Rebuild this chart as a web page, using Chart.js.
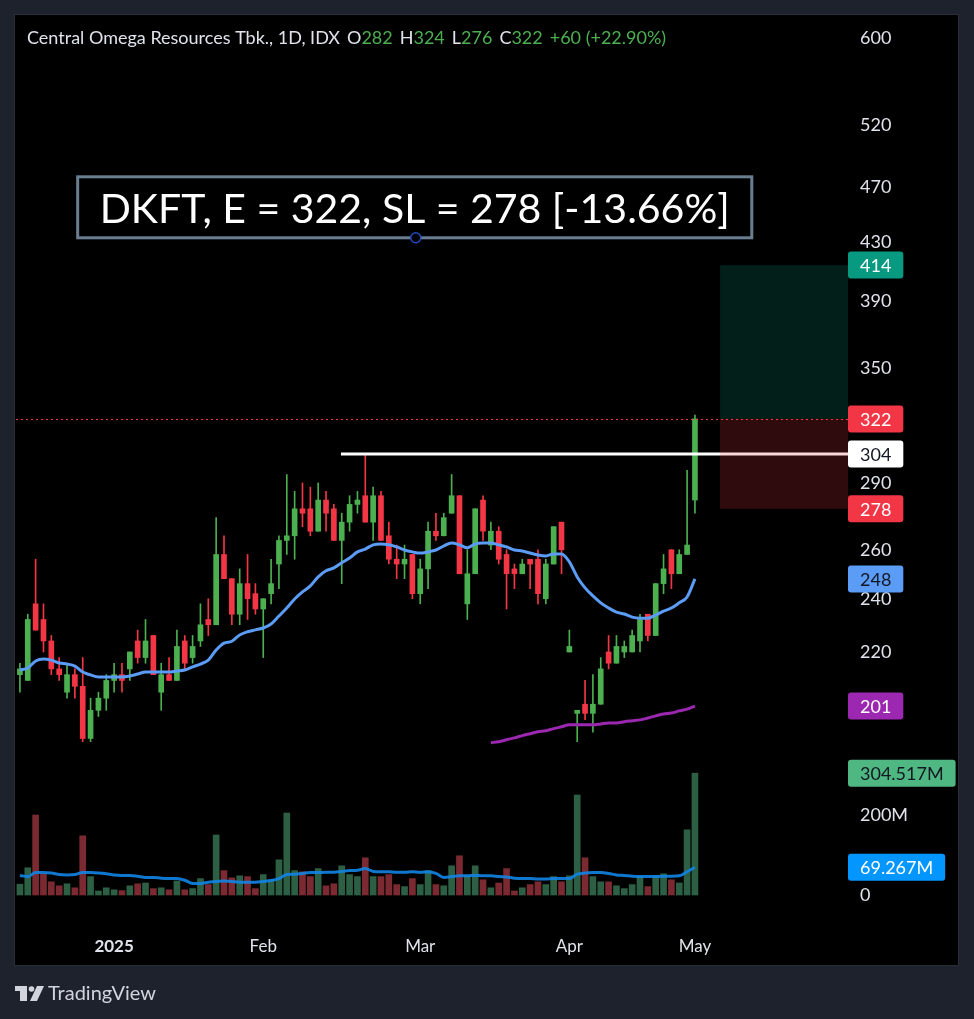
<!DOCTYPE html>
<html>
<head>
<meta charset="utf-8">
<title>DKFT daily</title>
<script src="https://cdn.jsdelivr.net/npm/chart.js@4.4.1/dist/chart.umd.min.js"></script>
<style>
  html, body { margin: 0; padding: 0; background: #1e222d; }
  canvas { display: block; }
</style>
</head>
<body>
<canvas id="chart" width="974" height="1019"></canvas>
<script>
// trading days shown (IDX, Dec 2024 - May 2025)
const dates = [
  "2024-12-10", "2024-12-11", "2024-12-12", "2024-12-13", "2024-12-16", "2024-12-17", "2024-12-18", "2024-12-19", "2024-12-20", "2024-12-23", "2024-12-27", "2024-12-30",
  "2025-01-02", "2025-01-03", "2025-01-06", "2025-01-07", "2025-01-08", "2025-01-09", "2025-01-10", "2025-01-13", "2025-01-14", "2025-01-15", "2025-01-16", "2025-01-17", "2025-01-20", "2025-01-21", "2025-01-22", "2025-01-23", "2025-01-24", "2025-01-30", "2025-01-31",
  "2025-02-03", "2025-02-04", "2025-02-05", "2025-02-06", "2025-02-07", "2025-02-10", "2025-02-11", "2025-02-12", "2025-02-13", "2025-02-14", "2025-02-17", "2025-02-18", "2025-02-19", "2025-02-20", "2025-02-21", "2025-02-24", "2025-02-25", "2025-02-26", "2025-02-27", "2025-02-28",
  "2025-03-03", "2025-03-04", "2025-03-05", "2025-03-06", "2025-03-07", "2025-03-10", "2025-03-11", "2025-03-12", "2025-03-13", "2025-03-14", "2025-03-17", "2025-03-18", "2025-03-19", "2025-03-20", "2025-03-21", "2025-03-24", "2025-03-25", "2025-03-26", "2025-03-27",
  "2025-04-08", "2025-04-09", "2025-04-10", "2025-04-11", "2025-04-14", "2025-04-15", "2025-04-16", "2025-04-17", "2025-04-21", "2025-04-22", "2025-04-23", "2025-04-24", "2025-04-25", "2025-04-28", "2025-04-29", "2025-04-30",
  "2025-05-02"
];

const opens = [212, 210, 238, 232, 224, 214, 206, 212, 208, 191, 200, 204, 210, 212, 214, 224, 218, 226, 206, 212,
  210, 224, 218, 224, 232, 230, 258, 248, 234, 246, 242, 236, 242, 254, 264, 266, 278, 278, 268, 282,
  278, 264, 272, 280, 284, 272, 284, 266, 256, 254, 258, 242, 252, 268, 266, 276, 284, 238, 250, 282,
  262, 268, 258, 252, 250, 256, 256, 240, 254, 272, 220, 199, 202, 199, 202, 220, 216, 220, 220, 224,
  234, 226, 246, 260, 250, 258, 282];
const highs = [216, 234, 256, 238, 226, 218, 216, 214, 218, 204, 206, 212, 216, 216, 220, 228, 232, 226, 216, 218,
  228, 226, 226, 238, 240, 274, 266, 248, 252, 258, 246, 240, 256, 266, 294, 286, 290, 288, 290, 286,
  280, 276, 284, 286, 304, 288, 286, 272, 262, 262, 258, 256, 272, 276, 276, 294, 284, 260, 278, 284,
  272, 270, 260, 254, 256, 256, 260, 256, 270, 272, 228, 200, 210, 212, 218, 226, 226, 224, 228, 234,
  234, 246, 258, 260, 260, 296, 324];
const lows = [206, 210, 228, 220, 212, 210, 204, 204, 190, 190, 198, 200, 206, 206, 210, 216, 216, 212, 200, 210,
  210, 214, 216, 222, 226, 230, 248, 230, 230, 232, 234, 218, 238, 244, 258, 256, 270, 266, 268, 268,
  264, 246, 268, 276, 272, 264, 264, 254, 248, 248, 240, 238, 244, 264, 266, 276, 250, 232, 250, 264,
  260, 254, 236, 244, 250, 244, 238, 238, 254, 250, 220, 190, 197, 193, 202, 214, 216, 218, 220, 220,
  224, 226, 242, 244, 250, 258, 276];
const closes = [214, 232, 228, 224, 214, 212, 212, 208, 191, 200, 204, 210, 212, 210, 220, 218, 224, 212, 212, 210,
  222, 216, 222, 230, 230, 258, 248, 234, 246, 240, 236, 240, 246, 264, 266, 278, 276, 268, 282, 276,
  264, 272, 280, 282, 272, 284, 264, 256, 254, 256, 242, 252, 268, 266, 274, 284, 250, 250, 278, 268,
  268, 256, 250, 250, 254, 254, 242, 254, 270, 260, 222, 200, 199, 202, 214, 216, 222, 222, 226, 232,
  226, 246, 252, 250, 258, 262, 322];

// volume, millions of shares
const volumes = [27, 68, 200, 53, 33, 23, 28, 18, 148, 46, 10, 18, 13, 11, 23, 28, 30, 16, 18, 13,
  35, 13, 16, 41, 26, 150, 61, 43, 48, 46, 16, 51, 38, 88, 205, 61, 58, 46, 66, 23,
  28, 73, 51, 46, 93, 46, 46, 51, 26, 21, 41, 26, 61, 26, 23, 73, 98, 48, 73, 38,
  18, 30, 66, 10, 18, 26, 33, 26, 46, 33, 48, 250, 93, 46, 33, 33, 23, 16, 26, 46,
  21, 48, 53, 38, 30, 163, 304.517];
const volumeMA = [49, 46, 56, 56, 55, 51, 50, 51, 56, 56, 55, 53, 50, 49, 49, 47, 44, 44, 42, 41,
  41, 37, 29, 29, 32, 34, 35, 34, 32, 32, 32, 34, 36, 41, 51, 52, 54, 56, 56, 57,
  57, 59, 61, 62, 66, 59, 58, 58, 57, 57, 58, 57, 58, 54, 44, 46, 48, 48, 49, 48,
  48, 46, 45, 42, 41, 41, 40, 40, 41, 41, 41, 52, 55, 56, 56, 54, 50, 49, 47, 46,
  46, 46, 47, 47, 48, 58, 69.267];

// moving averages on price
const maShort = [213.6, 214.3, 216.8, 217.5, 217.1, 216.1, 215.7, 215.0, 212.9, 211.9,
  211.2, 211.2, 211.2, 211.2, 211.5, 212.2, 212.9, 212.9, 212.9, 212.9,
  213.3, 213.6, 214.7, 215.7, 217.1, 220.7, 223.2, 223.9, 226.2, 227.4,
  228.1, 228.8, 230.3, 233.3, 236.4, 239.9, 242.7, 245.1, 248.7, 251.2,
  252.4, 254.5, 256.5, 259.1, 260.3, 262.1, 262.5, 262.1, 261.2, 259.9,
  259.1, 258.6, 259.1, 259.9, 261.6, 262.9, 262.1, 260.8, 262.5, 262.9,
  262.9, 262.1, 261.2, 259.9, 259.5, 258.6, 257.8, 257.4, 258.2, 258.2,
  254.9, 248.7, 244.3, 241.1, 238.4, 236.4, 234.8, 234.1, 232.9, 232.5,
  232.5, 233.7, 235.2, 236.4, 238.4, 240.7, 247.9];
const maLong = [null, null, null, null, null, null, null, null, null, null,
  null, null, null, null, null, null, null, null, null, null,
  null, null, null, null, null, null, null, null, null, null,
  null, null, null, null, null, null, null, null, null, null,
  null, null, null, null, null, null, null, null, null, null,
  null, null, null, null, null, null, null, null, null, null,
  189.7, 190.0, 190.6, 191.2, 191.9, 192.5, 193.1, 193.4, 194.1, 194.7,
  195.3, 195.3, 195.3, 195.3, 195.6, 195.9, 195.9, 196.3, 196.6, 196.9,
  197.5, 198.2, 198.8, 199.1, 199.8, 200.4, 201.4];

// x axis tick labels
const tickDates = ["2025-01-02", "2025-02-03", "2025-03-03", "2025-04-08", "2025-05-02"];
const tickLabels = ["2025", "Feb", "Mar", "Apr", "May"];
// price / volume axis tick labels
const priceTicks = [220, 240, 260, 290, 350, 390, 430, 470, 520, 600];
const volumeTicks = [0, 200];

// drawings
const ticker = "DKFT";
const entry = 322, stop = 278, target = 414;
const breakoutLevel = 304, breakoutFrom = 40.9;
const positionFrom = 89.2;
const emptySlots = 19;

const FONT = "Lato, 'Noto Sans', sans-serif";
const GREEN = "#4caf50", RED = "#f23645", TEXT = "#e0e3eb";

Chart.defaults.font.family = FONT;

const isUp = closes.map((c, i) => c >= opens[i]);
const labels = dates.concat(new Array(emptySlots).fill(""));

function roundRect(c, x, y, w, h, r) {
  c.beginPath();
  c.moveTo(x + r, y);
  c.lineTo(x + w - r, y);
  c.quadraticCurveTo(x + w, y, x + w, y + r);
  c.lineTo(x + w, y + h - r);
  c.quadraticCurveTo(x + w, y + h, x + w - r, y + h);
  c.lineTo(x + r, y + h);
  c.quadraticCurveTo(x, y + h, x, y + h - r);
  c.lineTo(x, y + r);
  c.quadraticCurveTo(x, y, x + r, y);
  c.closePath();
}

function tag(c, text, yPix, left, bg, fg) {
  c.font = `18px ${FONT}`;
  const w = c.measureText(text).width + 24;
  c.fillStyle = bg;
  roundRect(c, left, yPix - 13.5, w, 27, 3);
  c.fill();
  c.fillStyle = fg;
  c.textAlign = "left";
  c.textBaseline = "middle";
  c.fillText(text, left + 12, yPix + 1);
}

// price and volume share one 110px column on the right
function sideAxis(s) {
  s.width = 110;
  s.paddingTop = 0;
  s.paddingBottom = 0;
  s.paddingLeft = 0;
  s.paddingRight = 0;
}

const overlay = {
  id: "overlay",
  beforeDraw(chart) {
    const c = chart.ctx;
    c.save();
    c.fillStyle = "#1e222d";
    c.fillRect(0, 0, chart.width, chart.height);
    c.fillStyle = "#000000";
    c.fillRect(15, 15, 943, 950);
    c.strokeStyle = "#2a2e39";
    c.lineWidth = 1;
    c.strokeRect(14.5, 14.5, 944, 951);
    c.restore();
  },
  afterDatasetsDraw(chart) {
    const c = chart.ctx, a = chart.chartArea, x = chart.scales.x, y = chart.scales.y;
    c.save();
    c.beginPath();
    c.rect(a.left, a.top, a.right - a.left, a.bottom - a.top);
    c.clip();

    const yb = y.getPixelForValue(breakoutLevel);
    c.strokeStyle = "#ffffff";
    c.lineWidth = 3;
    c.beginPath();
    c.moveTo(x.getPixelForValue(breakoutFrom), yb);
    c.lineTo(a.right, yb);
    c.stroke();

    const x0 = x.getPixelForValue(positionFrom);
    const yE = y.getPixelForValue(entry), yT = y.getPixelForValue(target), yS = y.getPixelForValue(stop);
    c.fillStyle = "rgba(8,153,129,0.2)";
    c.fillRect(x0, yT, a.right - x0, yE - yT);
    c.fillStyle = "rgba(242,54,69,0.2)";
    c.fillRect(x0, yE, a.right - x0, yS - yE);

    const yLast = Math.round(y.getPixelForValue(closes[closes.length - 1])) + 0.5;
    c.strokeStyle = RED;
    c.lineWidth = 1;
    c.setLineDash([2, 3]);
    c.beginPath();
    c.moveTo(a.left, yLast);
    c.lineTo(a.right, yLast);
    c.stroke();
    c.restore();
  },
  afterDraw(chart) {
    const c = chart.ctx, a = chart.chartArea, x = chart.scales.x, y = chart.scales.y, yv = chart.scales.yv;
    const n = closes.length - 1;
    c.save();

    // header legend
    c.font = `18px ${FONT}`;
    c.textBaseline = "middle";
    c.textAlign = "left";
    const chg = closes[n] - closes[n - 1];
    const pct = (chg / closes[n - 1] * 100).toFixed(2);
    const parts = [
      ["Central Omega Resources Tbk., 1D, IDX", TEXT, 7],
      ["O", TEXT, 0], [String(opens[n]), GREEN, 7],
      ["H", TEXT, 0], [String(highs[n]), GREEN, 7],
      ["L", TEXT, 0], [String(lows[n]), GREEN, 7],
      ["C", TEXT, 0], [String(closes[n]), GREEN, 7],
      [`+${chg} (+${pct}%)`, GREEN, 0]
    ];
    let px = 27;
    for (const [t, col, gap] of parts) {
      c.fillStyle = col;
      c.fillText(t, px, 38);
      px += c.measureText(t).width + gap;
    }

    // position annotation box
    const risk = ((stop / entry - 1) * 100).toFixed(2);
    const note = `${ticker}, E = ${entry}, SL = ${stop} [${risk}%]`;
    c.font = `41px ${FONT}`;
    const tw = c.measureText(note).width;
    const cx = x.getPixelForValue(50.3), cy = y.getPixelForValue(455);
    const bw = tw + 44, bh = 61;
    c.fillStyle = "#000000";
    c.fillRect(cx - bw / 2, cy - bh / 2, bw, bh);
    c.strokeStyle = "#6a7e91";
    c.lineWidth = 3;
    c.strokeRect(cx - bw / 2, cy - bh / 2, bw, bh);
    c.fillStyle = "#ffffff";
    c.textAlign = "center";
    c.fillText(note, cx, cy + 2);
    c.beginPath();
    c.arc(cx + 1, cy + bh / 2, 5, 0, Math.PI * 2);
    c.fillStyle = "#000000";
    c.fill();
    c.strokeStyle = "#2148c0";
    c.lineWidth = 1.5;
    c.stroke();

    // price scale tags
    const left = a.right;
    tag(c, String(target), y.getPixelForValue(target), left, "#089981", "#ffffff");
    tag(c, String(closes[n]), y.getPixelForValue(closes[n]), left, RED, "#ffffff");
    tag(c, String(breakoutLevel), y.getPixelForValue(breakoutLevel), left, "#ffffff", "#131722");
    tag(c, String(stop), y.getPixelForValue(stop), left, RED, "#ffffff");
    tag(c, String(Math.round(maShort[n])), y.getPixelForValue(maShort[n]), left, "#5b9cf6", "#131722");
    tag(c, String(Math.round(maLong[n])), y.getPixelForValue(maLong[n]), left, "#9c27b0", "#ffffff");
    tag(c, volumes[n].toFixed(3) + "M", yv.getPixelForValue(volumes[n]), left, "#4fb882", "#131722");
    tag(c, volumeMA[n].toFixed(3) + "M", yv.getPixelForValue(volumeMA[n]), left, "#0496ff", "#ffffff");

    // footer logo
    c.fillStyle = "#d1d4dc";
    c.fillRect(15, 986, 12, 5);
    c.fillRect(20, 986, 7, 15);
    c.beginPath();
    c.arc(31.5, 989, 2.8, 0, Math.PI * 2);
    c.fill();
    c.beginPath();
    c.moveTo(37, 986);
    c.lineTo(44, 986);
    c.lineTo(37, 1001);
    c.lineTo(30, 1001);
    c.closePath();
    c.fill();
    c.font = `20px ${FONT}`;
    c.textAlign = "left";
    c.textBaseline = "middle";
    c.fillText("TradingView", 48, 994);
    c.restore();
  }
};

new Chart(document.getElementById("chart"), {
  type: "bar",
  data: {
    labels: labels,
    datasets: [
      {
        type: "line",
        label: "MA",
        data: maShort,
        borderColor: "#5b9cf6",
        borderWidth: 3,
        pointRadius: 0,
        cubicInterpolationMode: "monotone",
        yAxisID: "y",
        order: 0
      },
      {
        type: "line",
        label: "MA long",
        data: maLong,
        borderColor: "#9c27b0",
        borderWidth: 3,
        pointRadius: 0,
        cubicInterpolationMode: "monotone",
        yAxisID: "y",
        order: 1
      },
      {
        label: "Body",
        data: opens.map((o, i) => [Math.min(o, closes[i]), Math.max(o, closes[i])]),
        backgroundColor: isUp.map(u => u ? GREEN : RED),
        barThickness: 5,
        minBarLength: 1,
        grouped: false,
        yAxisID: "y",
        order: 2
      },
      {
        label: "Wick",
        data: lows.map((l, i) => [l, highs[i]]),
        backgroundColor: isUp.map(u => u ? GREEN : RED),
        barThickness: 1,
        grouped: false,
        yAxisID: "y",
        order: 3
      },
      {
        type: "line",
        label: "Vol MA",
        data: volumeMA,
        borderColor: "rgba(18,132,230,0.9)",
        borderWidth: 3,
        pointRadius: 0,
        cubicInterpolationMode: "monotone",
        yAxisID: "yv",
        order: 4
      },
      {
        label: "Volume",
        data: volumes,
        backgroundColor: isUp.map(u => u ? "#2d5f44" : "#7b2a31"),
        barThickness: 6,
        grouped: false,
        yAxisID: "yv",
        order: 5
      }
    ]
  },
  options: {
    responsive: false,
    animation: false,
    layout: { padding: { left: 16, top: 15, right: 16, bottom: 54 } },
    plugins: {
      legend: { display: false },
      tooltip: { enabled: false }
    },
    scales: {
      x: {
        type: "category",
        offset: true,
        grid: { display: false, drawTicks: false },
        border: { display: false },
        ticks: {
          autoSkip: false,
          maxRotation: 0,
          padding: 11,
          color: TEXT,
          font: ctx => ({
            family: FONT,
            size: 17,
            weight: ctx.tick && ctx.tick.label === "2025" ? "bold" : "normal"
          }),
          callback: (v, i) => {
            const k = tickDates.indexOf(labels[i]);
            return k >= 0 ? tickLabels[k] : "";
          }
        },
        afterFit: s => {
          s.height = 40;
          s.paddingLeft = 0;
          s.paddingRight = 0;
        }
      },
      y: {
        type: "logarithmic",
        position: "right",
        stack: "side",
        stackWeight: 745,
        min: 184.4,
        max: 623,
        grid: { display: false, drawTicks: false },
        border: { display: false },
        afterBuildTicks: s => { s.ticks = priceTicks.map(v => ({ value: v })); },
        ticks: {
          padding: 12,
          color: TEXT,
          font: { size: 18 },
          callback: v => String(v)
        },
        afterFit: sideAxis
      },
      yv: {
        type: "linear",
        position: "right",
        stack: "side",
        stackWeight: 165,
        min: -75,
        max: 337.5,
        grid: { display: false, drawTicks: false },
        border: { display: false },
        afterBuildTicks: s => { s.ticks = volumeTicks.map(v => ({ value: v })); },
        ticks: {
          padding: 12,
          color: TEXT,
          font: { size: 18 },
          callback: v => (v === 0 ? "0" : v + "M")
        },
        afterFit: sideAxis
      }
    }
  },
  plugins: [overlay]
});
</script>
</body>
</html>
